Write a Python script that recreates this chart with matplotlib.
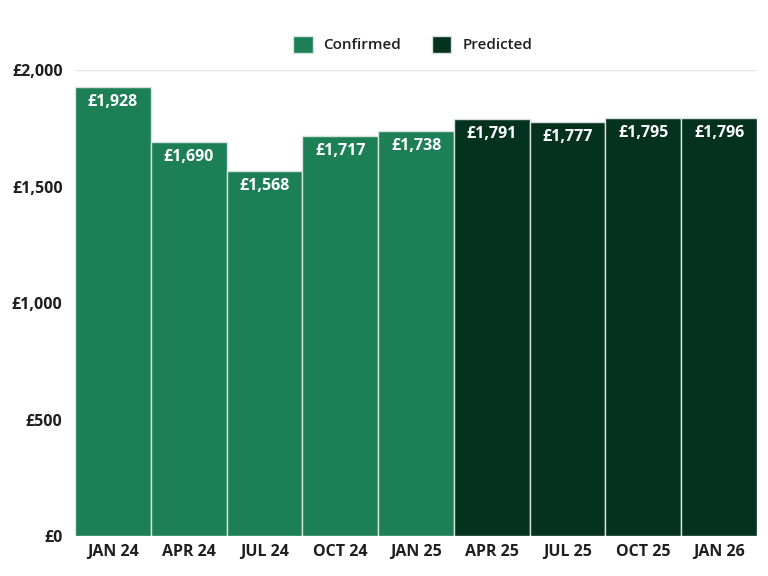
import matplotlib
matplotlib.use("Agg")
import matplotlib.pyplot as plt
from matplotlib.patches import Patch

plt.rcParams['font.family'] = ['Open Sans', 'DejaVu Sans']

quarters = ["JAN 24", "APR 24", "JUL 24", "OCT 24", "JAN 25",
            "APR 25", "JUL 25", "OCT 25", "JAN 26"]
values = [1928, 1690, 1568, 1717, 1738, 1791, 1777, 1795, 1796]
status = ["Confirmed"] * 5 + ["Predicted"] * 4

colours = {"Confirmed": "#1c7f56", "Predicted": "#05311f"}

fig = plt.figure(figsize=(7.68, 5.76), dpi=100)
ax = fig.add_axes([0.0977, 0.0694, 0.888, 0.809])

x = range(len(quarters))
bars = ax.bar(x, values, width=1.0, color=[colours[s] for s in status],
              edgecolor="#d6e2dc", linewidth=1, zorder=3)

for b, v in zip(bars, values):
    ax.annotate(f"£{v:,}", (b.get_x() + b.get_width() / 2, v),
                xytext=(0, -5), textcoords="offset points",
                ha="center", va="top", color="white",
                fontsize=11.5, fontweight="bold", zorder=4)

ax.set_xlim(-0.5, len(quarters) - 0.5)
ax.set_ylim(0, 2000)
ax.set_yticks([0, 500, 1000, 1500, 2000])
ax.set_yticklabels([f"£{t:,}" for t in [0, 500, 1000, 1500, 2000]])
ax.set_xticks(list(x))
ax.set_xticklabels(quarters)
ax.tick_params(length=0, labelsize=11.5, colors="#1e1e1e", pad=6)
ax.tick_params(axis="y", pad=9)
for lab in ax.get_xticklabels() + ax.get_yticklabels():
    lab.set_fontweight("bold")

ax.yaxis.grid(True, color="#e6e6e6", linewidth=1, zorder=0)
for s in ax.spines.values():
    s.set_visible(False)

handles = [Patch(facecolor=colours[k], edgecolor="#d6e2dc", label=k)
           for k in ["Confirmed", "Predicted"]]
leg = fig.legend(handles=handles, loc="center", bbox_to_anchor=(0.537, 0.923),
                 ncol=2, frameon=False, fontsize=11, handlelength=1.3,
                 handleheight=1.3, columnspacing=2.0, handletextpad=0.7)
for t in leg.get_texts():
    t.set_fontweight("semibold")
    t.set_color("#1e1e1e")

fig.savefig("out.png", dpi=100, facecolor="white")
